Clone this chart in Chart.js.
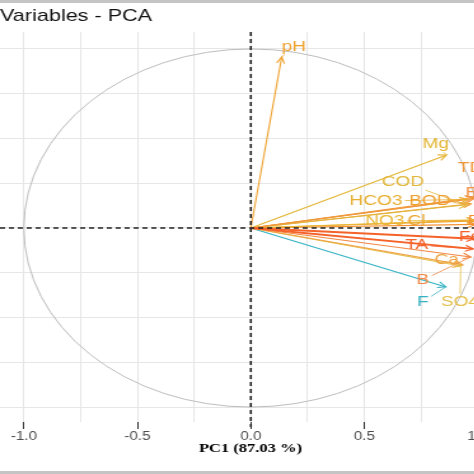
<!DOCTYPE html>
<html>
<head>
<meta charset="utf-8">
<script src="https://cdn.jsdelivr.net/npm/chart.js@4.4.1/dist/chart.umd.min.js"></script>
<style>
  body { margin: 0; background: #fff; }
  #wrap { width: 474px; height: 474px; overflow: hidden; position: relative; background: #fff; }
  #stretch { position: absolute; left: 0; top: 0; transform: scaleX(1.2715); transform-origin: 0 0; }
</style>
</head>
<body>
<div id="wrap">
  <div id="stretch">
    <canvas id="pcaChart" width="394" height="474"></canvas>
  </div>
</div>
<script>
// variables on the correlation circle
const varNames = ['pH', 'Mg', 'TDS', 'EC', 'COD', 'HCO3', 'BOD', 'NO3', 'Cl', 'DO', 'TA', 'Fe', 'Ca', 'B', 'SO4', 'F'];
const pc1 = [0.136, 0.862, 0.98, 0.985, 0.95, 0.955, 0.97, 0.985, 0.99, 0.99, 0.98, 0.985, 0.934, 0.969, 0.925, 0.859];
const pc2 = [0.955, 0.408, 0.17, 0.165, 0.13, 0.16, 0.135, 0.045, 0.04, 0.02, -0.117, -0.06, -0.206, -0.162, -0.212, -0.329];
const varColors = ['#EFA12C', '#E4B534', '#F0983A', '#F39344', '#E2B73C', '#E8B032', '#EFA030', '#E9B735',
  '#EDA530', '#F4902E', '#F5622A', '#F5622A', '#EFA444', '#F28844', '#E6C04E', '#35B3C4'];
// where the repelled text labels sit
const labelPc1 = [0.189, 0.815, 0.996, 1.004, 0.670, 0.551, 0.789, 0.59, 0.73, 1.018, 0.731, 0.965, 0.863, 0.758, 0.921, 0.758];
const labelPc2 = [1.014, 0.468, 0.334, 0.195, 0.256, 0.150, 0.150, 0.039, 0.039, 0.039, -0.095, -0.05, -0.178, -0.29, -0.412, -0.412];
const axisTicks = [-1, -0.75, -0.5, -0.25, 0, 0.25, 0.5, 0.75, 1];

const isMajor = v => Math.abs(v * 2 - Math.round(v * 2)) < 1e-6;
const isRed = c => c === '#F5622A';

const datasets = varNames.map((n, i) => ({
  label: n,
  data: [{x: 0, y: 0}, {x: pc1[i], y: pc2[i]}],
  showLine: true,
  borderColor: varColors[i],
  borderWidth: isRed(varColors[i]) ? 1.8 : 1.1,
  pointRadius: 0,
  order: varColors[i] === '#35B3C4' ? 2 : (isRed(varColors[i]) ? 0 : 1)
}));

const decor = {
  id: 'decor',
  beforeDraw(chart) {
    const c = chart.ctx;
    c.save();
    c.fillStyle = '#fff';
    c.fillRect(0, 0, chart.width, chart.height);
    c.fillStyle = '#C4C4C4';
    c.fillRect(0, 0, chart.width, 3);
    c.fillRect(0, chart.height - 3, chart.width, 3);
    c.restore();
  },
  beforeDatasetsDraw(chart) {
    const {ctx: c, chartArea: a, scales: {x, y}} = chart;
    c.save();
    c.beginPath();
    c.rect(a.left, a.top, a.right - a.left, a.bottom - a.top);
    c.clip();
    c.strokeStyle = '#BEBEBE';
    c.lineWidth = 1;
    c.beginPath();
    c.ellipse(x.getPixelForValue(0), y.getPixelForValue(0),
      x.getPixelForValue(1) - x.getPixelForValue(0),
      y.getPixelForValue(0) - y.getPixelForValue(1), 0, 0, Math.PI * 2);
    c.stroke();
    c.restore();
  },
  afterDatasetsDraw(chart) {
    const {ctx: c, chartArea: a, scales: {x, y}} = chart;
    const x0 = x.getPixelForValue(0), y0 = y.getPixelForValue(0);
    c.save();
    // arrow heads
    varNames.forEach((n, i) => {
      const tx = x.getPixelForValue(pc1[i]), ty = y.getPixelForValue(pc2[i]);
      const ang = Math.atan2(ty - y0, tx - x0);
      c.strokeStyle = varColors[i];
      c.lineWidth = 1.1;
      c.beginPath();
      c.moveTo(tx - 7 * Math.cos(ang - 0.45), ty - 7 * Math.sin(ang - 0.45));
      c.lineTo(tx, ty);
      c.lineTo(tx - 7 * Math.cos(ang + 0.45), ty - 7 * Math.sin(ang + 0.45));
      c.stroke();
    });
    // dashed axes
    c.strokeStyle = '#222';
    c.lineWidth = 1.6;
    c.setLineDash([4, 3]);
    c.beginPath();
    c.moveTo(a.left, y0);
    c.lineTo(a.right, y0);
    c.moveTo(x0, a.top);
    c.lineTo(x0, a.bottom + 5);
    c.stroke();
    c.setLineDash([]);
    // labels with leader segments
    c.font = '15px "Liberation Sans", Arial, sans-serif';
    c.textAlign = 'center';
    c.textBaseline = 'middle';
    varNames.forEach((n, i) => {
      const lx = x.getPixelForValue(labelPc1[i]), ly = y.getPixelForValue(labelPc2[i]);
      const tx = x.getPixelForValue(pc1[i]), ty = y.getPixelForValue(pc2[i]);
      const w = c.measureText(n).width / 2 + 2, h = 8;
      const dx = tx - lx, dy = ty - ly;
      const t = Math.min(Math.abs(dx) > 0 ? w / Math.abs(dx) : 1e9, Math.abs(dy) > 0 ? h / Math.abs(dy) : 1e9);
      if (t < 0.8) {
        c.strokeStyle = varColors[i];
        c.lineWidth = 0.8;
        c.beginPath();
        c.moveTo(lx + dx * t, ly + dy * t);
        c.lineTo(tx, ty);
        c.stroke();
      }
      c.fillStyle = varColors[i];
      c.fillText(n, lx, ly);
    });
    c.restore();
  }
};

new Chart(document.getElementById('pcaChart'), {
  type: 'scatter',
  data: { datasets: datasets },
  options: {
    responsive: false,
    animation: false,
    devicePixelRatio: 1,
    layout: { padding: { left: 0, right: 0, top: 0, bottom: 19 } },
    plugins: {
      legend: { display: false },
      tooltip: { enabled: false },
      title: {
        display: true,
        text: 'Variables - PCA',
        align: 'start',
        color: '#111',
        font: { family: '"Liberation Sans", Arial, sans-serif', size: 17, weight: 'normal', lineHeight: 1 },
        padding: { top: 8, bottom: 7 }
      }
    },
    scales: {
      x: {
        type: 'linear',
        min: -1.105,
        max: 1.102,
        afterBuildTicks: s => { s.ticks = axisTicks.map(v => ({value: v})); },
        border: { display: false },
        grid: {
          color: '#E6E6E6',
          tickLength: 7,
          tickColor: ctx => isMajor(ctx.tick.value) ? '#333' : 'rgba(0,0,0,0)'
        },
        ticks: {
          autoSkip: false,
          maxRotation: 0,
          padding: 2,
          color: '#4D4D4D',
          font: { family: '"Liberation Sans", Arial, sans-serif', size: 12, lineHeight: 1 },
          callback: v => isMajor(v) ? v.toFixed(1) : ''
        },
        title: {
          display: true,
          text: 'PC1 (87.03 %)',
          color: '#000',
          font: { family: '"Liberation Serif", "Times New Roman", serif', size: 13, weight: 'bold', lineHeight: 1 },
          padding: { top: -3, bottom: 0 }
        }
      },
      y: {
        type: 'linear',
        min: -1.0836,
        max: 1.0947,
        afterBuildTicks: s => { s.ticks = axisTicks.map(v => ({value: v})); },
        border: { display: false },
        grid: { color: '#E6E6E6', drawTicks: false },
        ticks: { display: false }
      }
    }
  },
  plugins: [decor]
});
</script>
</body>
</html>
